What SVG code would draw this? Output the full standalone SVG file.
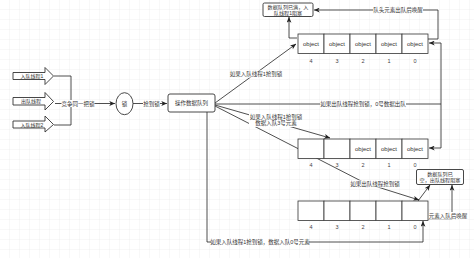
<svg xmlns="http://www.w3.org/2000/svg" width="474" height="258" viewBox="0 0 474 258">
<defs>
<pattern id="grid" width="10" height="10" patternUnits="userSpaceOnUse">
<path d="M10,0 V10 M0,10 H10" fill="none" stroke="#e8e8e8" stroke-width="0.6"/>
</pattern>
<marker id="arr" viewBox="0 0 10 8" refX="9.5" refY="4" markerWidth="6" markerHeight="5" orient="auto" markerUnits="userSpaceOnUse">
<path d="M0,0 L10,4 L0,8 L2.5,4 z" fill="#222"/>
</marker>
</defs>
<style>
text{font-family:"Liberation Sans","Noto Sans CJK SC",sans-serif;fill:#333;text-anchor:middle;dominant-baseline:central}
.lbl{font-size:5.5px}
.sm{font-size:5.1px}
.obj{font-size:6px}
.idx{font-size:5.5px;fill:#444}
.cell{fill:#fff;stroke:#333;stroke-width:0.8}
.box{fill:#fff;stroke:#333;stroke-width:0.9}
.bg{fill:#fff}
.ln{fill:none;stroke:#222;stroke-width:0.8}
.blk{fill:#fff;stroke:#333;stroke-width:0.9}
</style>
<rect width="474" height="258" fill="#fff"/>
<rect width="474" height="258" fill="url(#grid)"/>

<g id="connectors">
<path class="ln" d="M54,76 H71 V125 H54"/>
<path class="ln" d="M55,103.5 H115" marker-end="url(#arr)"/>
<path class="ln" d="M133,103.5 H167" marker-end="url(#arr)"/>
<path class="ln" d="M215,103 L296,44" marker-end="url(#arr)"/>
<path class="ln" d="M215,104 H441 V148 H429" marker-end="url(#arr)"/>
<path class="ln" d="M441,104 V43 H429" marker-end="url(#arr)"/>
<path class="ln" d="M428,39 H438 V10 H314" marker-end="url(#arr)"/>
<path class="ln" d="M297,38 H289 V17" marker-end="url(#arr)"/>
<path class="ln" d="M215,105 L330,138" marker-end="url(#arr)"/>
<path class="ln" d="M215,106 L365,183 L419,200" marker-end="url(#arr)"/>
<path class="ln" d="M207,112 V242 H423 V221" marker-end="url(#arr)"/>
<path class="ln" d="M418,201 L430,185" marker-end="url(#arr)"/>
<path class="ln" d="M428,219 H452 V185" marker-end="url(#arr)"/>

<rect class="bg" x="61.5" y="100" width="33" height="7"/>
<text class="lbl" x="78" y="103.5">竞争同一把锁</text>
<rect class="bg" x="143" y="100" width="17" height="7"/>
<text class="lbl" x="151.5" y="103.5">抢到锁</text>
<rect class="bg" x="230" y="70.5" width="53" height="7"/>
<text class="lbl" x="256" y="74">如果入队线程1抢到锁</text>
<rect class="bg" x="320" y="100.5" width="86" height="7"/>
<text class="lbl" x="363" y="104">如果出队线程抢到锁，0号数据出队</text>
<rect class="bg" x="249" y="113" width="54" height="14"/>
<text class="lbl" x="276" y="116.7">如果入队线程1抢到锁</text>
<text class="lbl" x="276" y="123.2">数据入队3号元素</text>
<rect class="bg" x="350" y="180.5" width="50" height="7"/>
<text class="lbl" x="375" y="184">如果出队线程抢到锁</text>
<rect class="bg" x="211" y="238.5" width="98" height="7"/>
<text class="lbl" x="260" y="242">如果入队线程1抢到锁，数据入队0号元素</text>
<rect class="bg" x="373" y="6.5" width="50" height="7"/>
<text class="lbl" x="398" y="10">队头元素出队后唤醒</text>
<rect class="bg" x="428" y="212" width="40" height="7.5"/>
<text class="lbl" x="448" y="215.5">元素入队后唤醒</text>
</g>

<g id="thread-enqueue-1">
<path class="blk" d="M13,72.5 H45 V67.5 L53.5,76 L45,84.5 V79.5 H13 Z"/>
<text class="lbl" x="32" y="76" style="font-size:5px">入队线程1</text>
</g>
<g id="thread-dequeue">
<path class="blk" d="M13,97.5 H45 V92.5 L53.5,101.5 L45,110 V105 H13 Z"/>
<text class="lbl" x="31" y="101" style="font-size:5px">出队线程</text>
</g>
<g id="thread-enqueue-2">
<path class="blk" d="M13,121 H45 V116 L53.5,124.5 L45,132 V128 H13 Z"/>
<text class="lbl" x="32" y="124.5" style="font-size:5px">入队线程2</text>
</g>

<g id="lock">
<ellipse class="box" cx="124.5" cy="103.7" rx="8.5" ry="11"/>
<text class="lbl" x="124.5" y="103.7">锁</text>
</g>

<g id="operate-queue">
<rect class="box" x="168" y="94" width="47" height="18" rx="2"/>
<text class="lbl" x="191.5" y="103">操作数据队列</text>
</g>

<g id="queue-full-block">
<rect class="box" x="263" y="3" width="50" height="13.5" rx="1.5"/>
<text class="sm" x="288" y="7">数据队列已满，入</text>
<text class="sm" x="288" y="12.6">队线程1阻塞</text>
</g>

<g id="queue-empty-block">
<rect class="box" x="416.5" y="169.5" width="47" height="15" rx="1.5"/>
<text class="sm" x="440" y="173.8">数据队列已</text>
<text class="sm" x="440" y="180">空，出队线程阻塞</text>
</g>

<g id="queue-top">
<rect class="cell" x="298" y="34" width="26" height="19.5"/>
<rect class="cell" x="324" y="34" width="26" height="19.5"/>
<rect class="cell" x="350" y="34" width="26" height="19.5"/>
<rect class="cell" x="376" y="34" width="26" height="19.5"/>
<rect class="cell" x="402" y="34" width="26" height="19.5"/>
<text class="obj" x="311" y="44">object</text>
<text class="obj" x="337" y="44">object</text>
<text class="obj" x="363" y="44">object</text>
<text class="obj" x="389" y="44">object</text>
<text class="obj" x="415" y="44">object</text>
<text class="idx" x="311" y="61">4</text>
<text class="idx" x="337" y="61">3</text>
<text class="idx" x="363" y="61">2</text>
<text class="idx" x="389" y="61">1</text>
<text class="idx" x="415" y="61">0</text>
</g>

<g id="queue-middle">
<rect class="cell" x="298" y="139" width="26" height="19.5"/>
<rect class="cell" x="324" y="139" width="26" height="19.5"/>
<rect class="cell" x="350" y="139" width="26" height="19.5"/>
<rect class="cell" x="376" y="139" width="26" height="19.5"/>
<rect class="cell" x="402" y="139" width="26" height="19.5"/>
<text class="obj" x="363" y="149">object</text>
<text class="obj" x="389" y="149">object</text>
<text class="obj" x="415" y="149">object</text>
<text class="idx" x="311" y="164.5">4</text>
<text class="idx" x="337" y="164.5">3</text>
<text class="idx" x="363" y="164.5">2</text>
<text class="idx" x="389" y="164.5">1</text>
<text class="idx" x="415" y="164.5">0</text>
</g>

<g id="queue-bottom">
<rect class="cell" x="298" y="201" width="26" height="19.5"/>
<rect class="cell" x="324" y="201" width="26" height="19.5"/>
<rect class="cell" x="350" y="201" width="26" height="19.5"/>
<rect class="cell" x="376" y="201" width="26" height="19.5"/>
<rect class="cell" x="402" y="201" width="26" height="19.5"/>
<text class="idx" x="311" y="227">4</text>
<text class="idx" x="337" y="227">3</text>
<text class="idx" x="363" y="227">2</text>
<text class="idx" x="389" y="227">1</text>
<text class="idx" x="415" y="227">0</text>
</g>
</svg>
